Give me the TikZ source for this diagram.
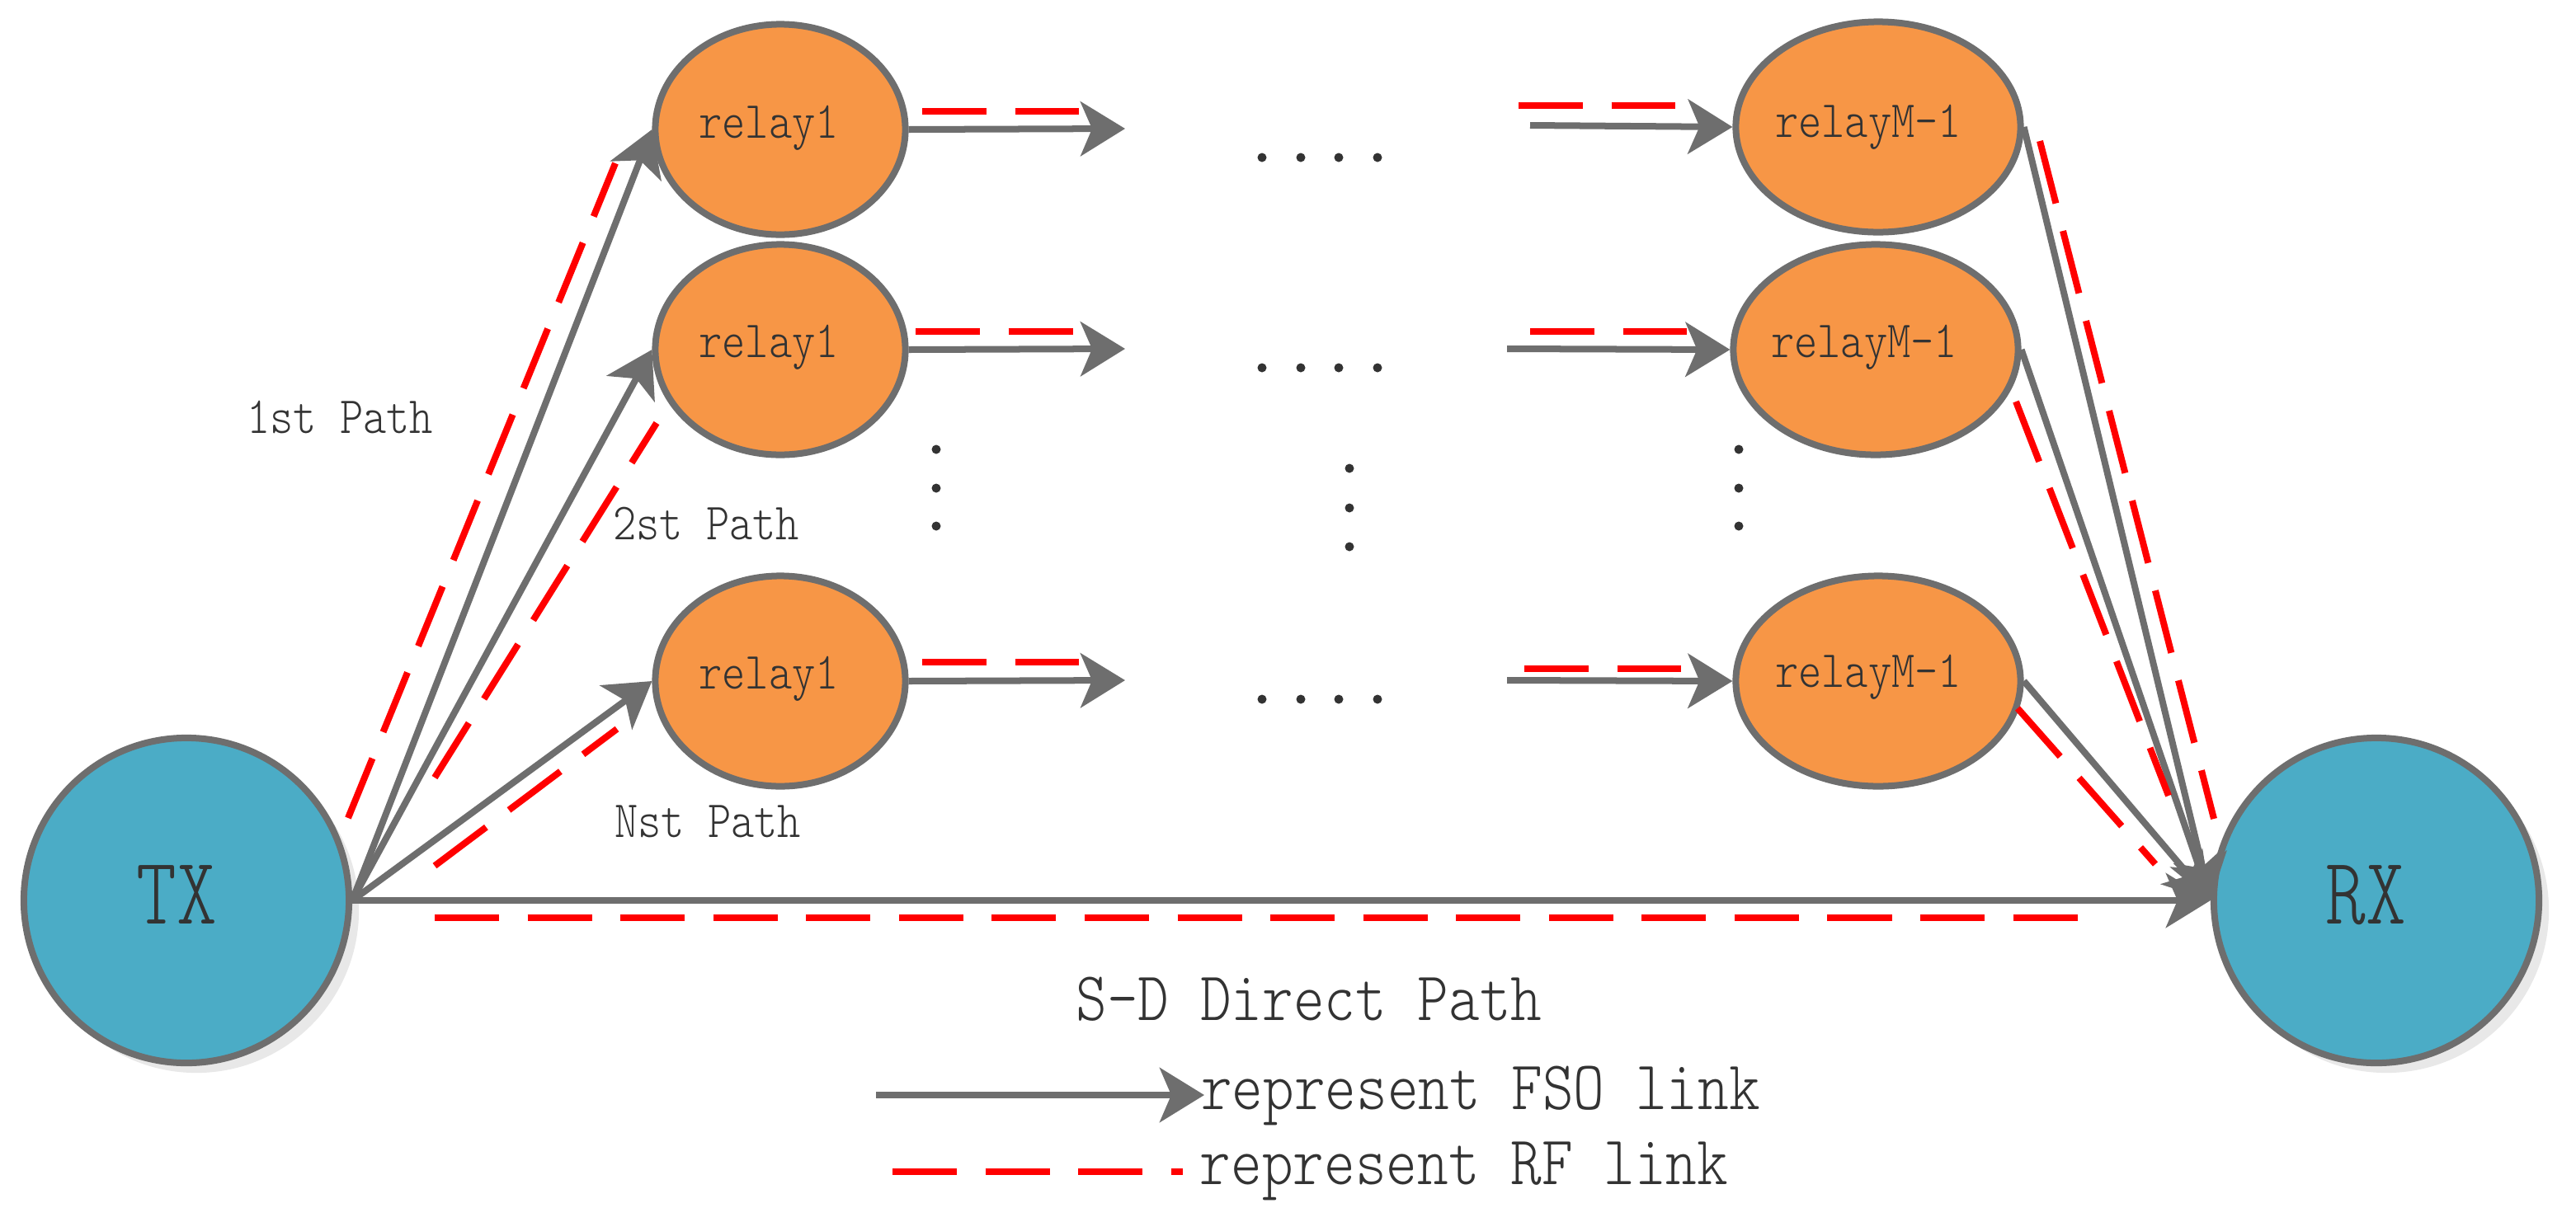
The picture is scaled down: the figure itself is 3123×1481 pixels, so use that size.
\documentclass[tikz,border=0pt]{standalone}
\usepackage{xcolor}
\usepackage{tikz}
\usetikzlibrary{arrows.meta, positioning, shapes.geometric, shadows}
\definecolor{linegray}{HTML}{6E6E6E}
\definecolor{relayorange}{HTML}{F79646}
\definecolor{endblue}{HTML}{4BACC6}
\definecolor{textgray}{HTML}{333333}
\definecolor{rfred}{HTML}{FF0000}
\tikzset{
    relaybox/.style={ellipse, draw=linegray, fill=relayorange, line width=0.08cm, inner sep=0pt},
    endbox/.style={circle, draw=linegray, fill=endblue, line width=0.08cm, inner sep=0pt, minimum size=3.94cm,
        general shadow={shadow xshift=0.12cm, shadow yshift=-0.12cm, fill=black!9}},
    fsolink/.style={-{Stealth[length=0.54cm, width=0.66cm, inset=0.14cm]}, linegray, line width=0.08cm},
    rflink/.style={rfred, line width=0.08cm, dash pattern=on 0.78cm off 0.345cm},
    smalltext/.style={text=textgray, anchor=base, xscale=0.85, font=\ttfamily\fontseries{l}\fontsize{18}{20}\selectfont},
    bigtext/.style={text=textgray, anchor=base, xscale=0.85, font=\ttfamily\fontseries{l}\fontsize{24}{28}\selectfont},
    endtext/.style={text=textgray, anchor=base, xscale=0.8, font=\ttfamily\fontseries{l}\fontsize{33}{36}\selectfont},
    dotmark/.style={circle, fill=textgray, inner sep=0pt, minimum size=0.11cm},
}
\begin{document}
\begin{tikzpicture}[x=0.01cm, y=-0.01cm]
    \useasboundingbox (0,0) rectangle (3123,1481);
    % TX and RX
    \node[endbox] (tx) at (226,1092) {};
    \node[endbox] (rx) at (2881,1092) {};
    \node[endtext] (txlabel) at (214,1120) {TX};
    \node[endtext] (rxlabel) at (2868,1120) {RX};
    % Relays, first hop
    \node[relaybox, minimum width=3.03cm, minimum height=2.55cm] (relayA) at (946,157) {};
    \node[relaybox, minimum width=3.03cm, minimum height=2.55cm] (relayB) at (946,424) {};
    \node[relaybox, minimum width=3.03cm, minimum height=2.55cm] (relayC) at (946,826) {};
    \node[smalltext] (relayAlabel) at (932,167) {relay1};
    \node[smalltext] (relayBlabel) at (932,433) {relay1};
    \node[smalltext] (relayClabel) at (932,835) {relay1};
    % Relays, last hop
    \node[relaybox, minimum width=3.45cm, minimum height=2.55cm] (lastA) at (2277,154) {};
    \node[relaybox, minimum width=3.45cm, minimum height=2.55cm] (lastB) at (2274,424) {};
    \node[relaybox, minimum width=3.45cm, minimum height=2.55cm] (lastC) at (2277,826) {};
    \node[smalltext] (lastAlabel) at (2265,166) {relayM-1};
    \node[smalltext] (lastBlabel) at (2260,433) {relayM-1};
    \node[smalltext] (lastClabel) at (2265,833) {relayM-1};
    % Free ends of the middle arrows
    \coordinate (outA) at (1364,156);
    \coordinate (outB) at (1364,423);
    \coordinate (outC) at (1364,825);
    \coordinate (inA) at (1855,152);
    \coordinate (inB) at (1827,423);
    \coordinate (inC) at (1827,825);
    % FSO links
    \draw[fsolink] (tx.east) -- (relayA.west);
    \draw[fsolink] (tx.east) -- (relayB.west);
    \draw[fsolink] (tx.east) -- (relayC.west);
    \draw[fsolink] (tx.east) -- (rx.west);
    \draw[fsolink] (relayA.east) -- (outA);
    \draw[fsolink] (relayB.east) -- (outB);
    \draw[fsolink] (relayC.east) -- (outC);
    \draw[fsolink] (inA) -- (lastA.west);
    \draw[fsolink] (inB) -- (lastB.west);
    \draw[fsolink] (inC) -- (lastC.west);
    \draw[fsolink] (lastA.east) -- (rx.west);
    \draw[fsolink] (lastB.east) -- (rx.west);
    \draw[fsolink] (lastC.east) -- (rx.west);
    % RF links
    \draw[rflink] (422,992) coordinate (rfa) -- (746,198) coordinate (rfb);
    \draw[rflink] (527,943) coordinate (rfc) -- (796,513) coordinate (rfd);
    \draw[rflink] (527,1050) coordinate (rfe) -- (748,884) coordinate (rff);
    \draw[rflink] (527,1113) coordinate (rfg) -- (2522,1113) coordinate (rfh);
    \draw[rflink] (1118,135) coordinate (rfi) -- (1308,135) coordinate (rfj);
    \draw[rflink] (1110,402) coordinate (rfk) -- (1301,402) coordinate (rfl);
    \draw[rflink] (1118,803) coordinate (rfm) -- (1308,803) coordinate (rfn);
    \draw[rflink] (1841,128) coordinate (rfo) -- (2031,128) coordinate (rfp);
    \draw[rflink] (1855,402) coordinate (rfq) -- (2045,402) coordinate (rfr);
    \draw[rflink] (1848,811) coordinate (rfs) -- (2038,811) coordinate (rft);
    \draw[rflink] (2473,171) coordinate (rfu) -- (2684,993) coordinate (rfv);
    \draw[rflink] (2444,487) coordinate (rfw) -- (2629,965) coordinate (rfx);
    \draw[rflink] (2446,859) coordinate (rfy) -- (2613,1048) coordinate (rfz);
    % Dots
    \node[dotmark] (vdotA) at (1135,545) {};
    \node[dotmark] (vdotB) at (1135,592) {};
    \node[dotmark] (vdotC) at (1135,638) {};
    \node[dotmark] (mdotA) at (1636,568) {};
    \node[dotmark] (mdotB) at (1636,616) {};
    \node[dotmark] (mdotC) at (1636,663) {};
    \node[dotmark] (wdotA) at (2108,545) {};
    \node[dotmark] (wdotB) at (2108,592) {};
    \node[dotmark] (wdotC) at (2108,638) {};
    \node[dotmark] (adotA) at (1530,191) {};
    \node[dotmark] (adotB) at (1577,191) {};
    \node[dotmark] (adotC) at (1623,191) {};
    \node[dotmark] (adotD) at (1670,191) {};
    \node[dotmark] (bdotA) at (1530,446) {};
    \node[dotmark] (bdotB) at (1577,446) {};
    \node[dotmark] (bdotC) at (1623,446) {};
    \node[dotmark] (bdotD) at (1670,446) {};
    \node[dotmark] (cdotA) at (1530,848) {};
    \node[dotmark] (cdotB) at (1577,848) {};
    \node[dotmark] (cdotC) at (1623,848) {};
    \node[dotmark] (cdotD) at (1670,848) {};
    % Path labels
    \node[smalltext] (pathA) at (412,525) {1st Path};
    \node[smalltext] (pathB) at (856,654) {2st Path};
    \node[smalltext] (pathC) at (858,1015) {Nst Path};
    \node[bigtext] (pathD) at (1587,1237) {S-D Direct Path};
    % Legend
    \coordinate (legfsoa) at (1062,1328);
    \coordinate (legfsob) at (1460,1328);
    \coordinate (legrfa) at (1082,1421);
    \coordinate (legrfb) at (1434,1421);
    \draw[fsolink] (legfsoa) -- (legfsob);
    \draw[rflink] (legrfa) -- (legrfb);
    \node[bigtext] (legfso) at (1795,1345) {represent FSO link};
    \node[bigtext] (legrf) at (1775,1436) {represent RF link};
\end{tikzpicture}
\end{document}
